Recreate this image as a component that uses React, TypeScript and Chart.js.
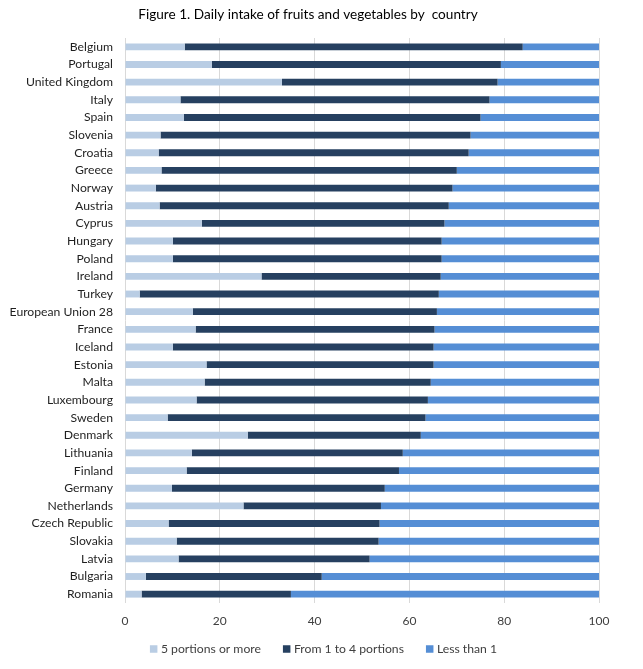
import React, { useEffect, useRef } from "react";
import { Chart, registerables } from "chart.js";

Chart.register(...registerables);

const countries = [
  "Belgium", "Portugal", "United Kingdom", "Italy", "Spain", "Slovenia", "Croatia",
  "Greece", "Norway", "Austria", "Cyprus", "Hungary", "Poland", "Ireland", "Turkey",
  "European Union 28", "France", "Iceland", "Estonia", "Malta", "Luxembourg", "Sweden",
  "Denmark", "Lithuania", "Finland", "Germany", "Netherlands", "Czech Republic",
  "Slovakia", "Latvia", "Bulgaria", "Romania",
];

// share eating 5 portions or more
const fivePlus = [
  12.6, 18.3, 33.1, 11.7, 12.4, 7.5, 7.1, 7.7, 6.5, 7.3, 16.2, 10.1, 10.1, 28.8, 3.1,
  14.3, 14.9, 10.1, 17.2, 16.8, 15.1, 9.0, 25.9, 14.1, 13.0, 9.9, 25.0, 9.2, 10.9, 11.3,
  4.4, 3.5,
];

// share eating from 1 to 4 portions
const oneToFour = [
  71.3, 61.0, 45.5, 65.2, 62.6, 65.4, 65.4, 62.3, 62.6, 61.0, 51.2, 56.7, 56.7, 37.8, 63.1,
  51.5, 50.4, 55.0, 47.9, 47.7, 48.8, 54.4, 36.5, 44.5, 44.8, 44.9, 29.0, 44.5, 42.6, 40.3,
  37.1, 31.5,
];

// share eating less than 1 portion
const lessThanOne = [
  16.1, 20.7, 21.4, 23.1, 25.0, 27.1, 27.5, 30.0, 30.9, 31.7, 32.6, 33.2, 33.2, 33.4, 33.8,
  34.2, 34.7, 34.9, 34.9, 35.5, 36.1, 36.6, 37.6, 41.4, 42.2, 45.2, 46.0, 46.3, 46.5, 48.4,
  58.5, 65.0,
];

const seriesNames = ["5 portions or more", "From 1 to 4 portions", "Less than 1"];
const seriesColors = ["#b9cde4", "#264060", "#558ed5"];
const xTicks = [0, 20, 40, 60, 80, 100];

const titleText = "Figure 1. Daily intake of fruits and vegetables by  country";
const FONT = "Lato, 'Open Sans', sans-serif";

const overlayPlugin = {
  id: "overlay",
  afterDraw(chart: any) {
    const ctx = chart.ctx;
    ctx.save();
    // title
    ctx.font = `13.6px ${FONT}`;
    ctx.fillStyle = "#000000";
    ctx.textAlign = "center";
    ctx.textBaseline = "middle";
    ctx.fillText(titleText, 308, 15);

    // legend
    ctx.font = `12.2px ${FONT}`;
    const box = 7.5;
    const gapText = 3.5;
    const gapItem = 22;
    const items = chart.data.datasets.map((d: any) => ({
      label: d.label,
      color: d.backgroundColor,
      w: ctx.measureText(d.label).width,
    }));
    const total =
      items.reduce((s: number, it: any) => s + box + gapText + it.w, 0) +
      gapItem * (items.length - 1);
    let x = 323.5 - total / 2;
    const y = 649;
    ctx.textAlign = "left";
    for (const it of items) {
      ctx.fillStyle = it.color;
      ctx.fillRect(x, y - box / 2, box, box);
      x += box + gapText;
      ctx.fillStyle = "#404040";
      ctx.fillText(it.label, x, y + 0.5);
      x += it.w + gapItem;
    }
    ctx.restore();
  },
};

export default function App() {
  const ref = useRef<HTMLCanvasElement | null>(null);

  useEffect(() => {
    if (!ref.current) return;
    const values = [fivePlus, oneToFour, lessThanOne];
    const chart = new Chart(ref.current, {
      type: "bar",
      data: {
        labels: countries,
        datasets: seriesNames.map((name, i) => ({
          label: name,
          data: values[i],
          backgroundColor: seriesColors[i],
          borderWidth: 0,
          barPercentage: 0.39,
          categoryPercentage: 1,
        })),
      },
      options: {
        indexAxis: "y",
        animation: false,
        responsive: false,
        maintainAspectRatio: false,
        layout: { padding: { left: 0, right: 44, top: 38, bottom: 42 } },
        plugins: {
          legend: { display: false },
          title: { display: false },
          tooltip: { enabled: false },
        },
        scales: {
          x: {
            stacked: true,
            min: 0,
            max: 100,
            afterBuildTicks: (scale: any) => {
              scale.ticks = xTicks.map((v) => ({ value: v }));
            },
            afterFit: (scale: any) => {
              scale.height = 24;
            },
            grid: { color: "#d9d9d9", lineWidth: 1, drawTicks: false },
            border: { display: false },
            ticks: {
              padding: 11,
              color: "#404040",
              font: { family: FONT, size: 12 },
            },
          },
          y: {
            stacked: true,
            afterFit: (scale: any) => {
              scale.width = 125;
            },
            grid: { display: false, drawTicks: false },
            border: { display: false },
            ticks: {
              padding: 12,
              autoSkip: false,
              color: "#1f1f1f",
              font: { family: FONT, size: 12.2 },
            },
          },
        },
      },
      plugins: [overlayPlugin],
    });
    return () => chart.destroy();
  }, []);

  return (
    <div style={{ position: "fixed", left: 0, top: 0, width: 643, height: 669, background: "#fff" }}>
      <canvas ref={ref} width={643} height={669} style={{ width: 643, height: 669 }} />
    </div>
  );
}
